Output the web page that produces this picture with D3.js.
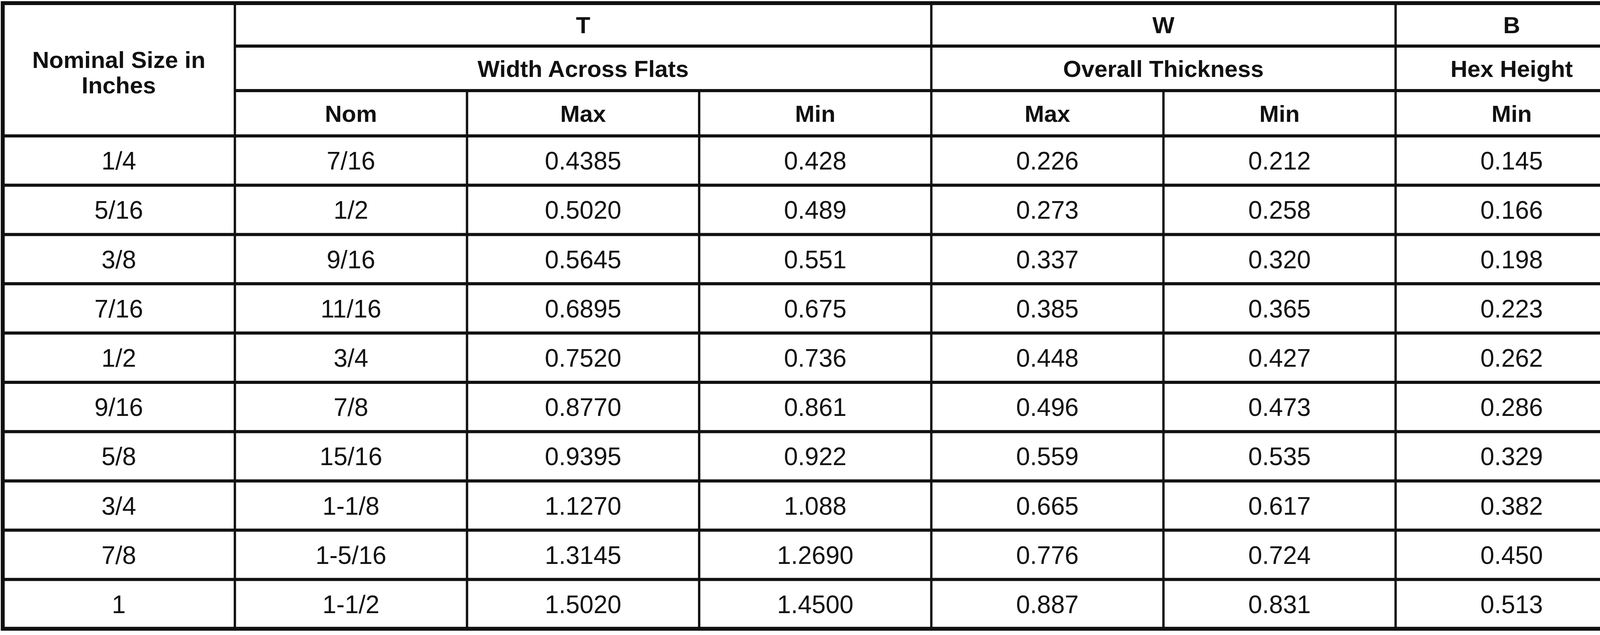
<!DOCTYPE html>
<html><head><meta charset="utf-8">
<script src="https://cdn.jsdelivr.net/npm/d3@7"></script>
<style>body{margin:0;background:#fff}svg{display:block}</style>
</head><body>
<svg id="c" width="4191" height="1626"></svg>
<script>
const groupLabels = ["T", "W", "B"];
const groupSubLabels = ["Width Across Flats", "Overall Thickness", "Hex Height"];
const columnLabels = ["Nom", "Max", "Min", "Max", "Min", "Min"];
const nominalSizes = ["1/4","5/16","3/8","7/16","1/2","9/16","5/8","3/4","7/8","1"];
const tNom = ["7/16","1/2","9/16","11/16","3/4","7/8","15/16","1-1/8","1-5/16","1-1/2"];
const tMax = ["0.4385","0.5020","0.5645","0.6895","0.7520","0.8770","0.9395","1.1270","1.3145","1.5020"];
const tMin = ["0.428","0.489","0.551","0.675","0.736","0.861","0.922","1.088","1.2690","1.4500"];
const wMax = ["0.226","0.273","0.337","0.385","0.448","0.496","0.559","0.665","0.776","0.887"];
const wMin = ["0.212","0.258","0.320","0.365","0.427","0.473","0.535","0.617","0.724","0.831"];
const bMin = ["0.145","0.166","0.198","0.223","0.262","0.286","0.329","0.382","0.450","0.513"];
const stubLabel = ["Nominal Size in", "Inches"];

const columns = [nominalSizes, tNom, tMax, tMin, wMax, wMin, bMin];
const groups = [{s:1,e:4},{s:4,e:6},{s:6,e:7}];

const svg = d3.select("#c");
const L=7, R=4167, T=8, B=1610, H1=118, H2=232, H3=348;
const x = d3.scaleBand().domain(d3.range(7)).range([L,R]);
const y = d3.scaleBand().domain(d3.range(nominalSizes.length)).range([H3,B]);
const font = "'Liberation Sans', Arial, sans-serif";
const ink = "#111";

columns.forEach((col,ci)=>{
  svg.append("g").selectAll("text").data(col).join("text")
    .attr("x", x(ci)+x.bandwidth()/2)
    .attr("y", (d,i)=>y(i)+y.bandwidth()/2)
    .attr("dy","0.36em").attr("text-anchor","middle")
    .attr("font-family",font).attr("font-size",64).attr("fill",ink)
    .text(d=>d);
});
const hdr = svg.append("g").attr("font-family",font).attr("font-weight","bold")
  .attr("font-size",60).attr("fill",ink).attr("text-anchor","middle");
groups.forEach((g,i)=>{
  const cx = (x(g.s)+x(g.e-1)+x.bandwidth())/2;
  hdr.append("text").attr("x",cx).attr("y",(T+H1)/2).attr("dy","0.36em").text(groupLabels[i]);
  hdr.append("text").attr("x",cx).attr("y",(H1+H2)/2).attr("dy","0.36em").text(groupSubLabels[i]);
});
columnLabels.forEach((l,i)=>{
  hdr.append("text").attr("x",x(i+1)+x.bandwidth()/2).attr("y",(H2+H3)/2).attr("dy","0.36em").text(l);
});
stubLabel.forEach((l,i)=>{
  hdr.append("text").attr("x",x(0)+x.bandwidth()/2).attr("y",152+i*65).attr("dy","0.36em").text(l);
});

const lines = svg.append("g").attr("stroke",ink).attr("fill","none");
[H1,H2].forEach(yy=>lines.append("line").attr("x1",x(1)).attr("x2",R).attr("y1",yy).attr("y2",yy).attr("stroke-width",8));
d3.range(1,nominalSizes.length).forEach(i=>lines.append("line").attr("x1",L).attr("x2",R).attr("y1",y(i)).attr("y2",y(i)).attr("stroke-width",8));
lines.append("line").attr("x1",L).attr("x2",R).attr("y1",H3).attr("y2",H3).attr("stroke-width",8);
[1,4,6].forEach(i=>lines.append("line").attr("x1",x(i)).attr("x2",x(i)).attr("y1",T).attr("y2",B).attr("stroke-width",6));
[2,3,5].forEach(i=>lines.append("line").attr("x1",x(i)).attr("x2",x(i)).attr("y1",H2).attr("y2",B).attr("stroke-width",6));
lines.append("rect").attr("x",L).attr("y",T).attr("width",R-L).attr("height",B-T).attr("stroke-width",10);
</script>
</body></html>
